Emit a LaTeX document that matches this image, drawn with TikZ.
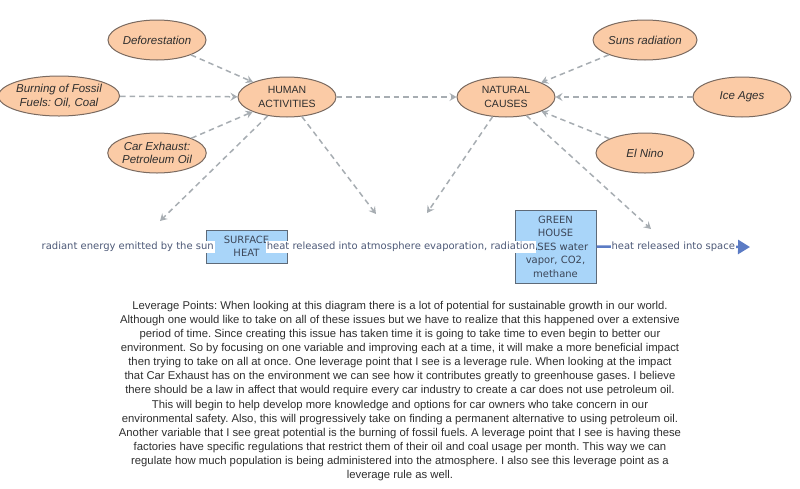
\documentclass[tikz,border=0pt]{standalone}
\usepackage{fontspec}
\setmainfont{Liberation Sans}
\newfontfamily\dvfont{DejaVu Sans}
\usetikzlibrary{shapes.geometric,arrows.meta}
\definecolor{peach}{HTML}{FBCBA6}
\definecolor{ellborder}{HTML}{7A6A60}
\definecolor{boxfill}{HTML}{A9D5F9}
\definecolor{boxborder}{HTML}{5E6A78}
\definecolor{dashgray}{HTML}{A7ADB2}
\definecolor{linktext}{HTML}{4E5A78}
\definecolor{flowblue}{HTML}{5B7BC4}
\definecolor{bodytext}{HTML}{2E2E2E}
\definecolor{boxtext}{HTML}{3C4658}
\tikzset{
  cause/.style={ellipse, draw=ellborder, line width=1pt, fill=peach, minimum width=98pt, minimum height=40pt, inner sep=0pt, align=center, text=bodytext, font=\fontsize{11.5}{13.5}\selectfont\itshape},
  hub/.style={cause, font=\fontsize{10.5}{13.5}\selectfont},
  stockbox/.style={rectangle, draw=boxborder, line width=1pt, fill=boxfill, inner sep=0pt, align=center, text=boxtext, font=\dvfont\fontsize{10}{13.5}\selectfont},
  dasharrow/.style={draw=dashgray, line width=1.5pt, dash pattern=on 5.5pt off 4pt, -{Stealth[length=7pt,width=8pt,inset=2.5pt,fill=dashgray]}},
  linklabel/.style={fill=white, inner sep=1pt, text=linktext, font=\dvfont\fontsize{10}{12}\selectfont},
}
\begin{document}
\frenchspacing
\begin{tikzpicture}[x=1pt,y=-1pt]
\useasboundingbox (0,0) rectangle (800,488);
% ellipses
\node[cause] (defo) at (157,40) {Deforestation};
\node[cause] (fossil) at (59,96) {Burning of Fossil\\Fuels: Oil, Coal};
\node[cause] (car) at (157,153) {Car Exhaust:\\Petroleum Oil};
\node[hub] (human) at (287,97) {HUMAN\\ACTIVITIES};
\node[hub] (natural) at (506,97) {NATURAL\\CAUSES};
\node[cause] (suns) at (645,40) {Suns radiation};
\node[cause] (ice) at (742,97) {Ice Ages};
\node[cause] (nino) at (645,153) {El Nino};
% free ends
\coordinate (h1) at (160,221);
\coordinate (h2) at (376,214);
\coordinate (n1) at (427,213);
\coordinate (n2) at (651,229);
% dashed arrows
\draw[dasharrow] (defo) -- (human);
\draw[dasharrow] (fossil) -- (human);
\draw[dasharrow] (car) -- (human);
\draw[dasharrow] (human) -- (natural);
\draw[dasharrow] (suns) -- (natural);
\draw[dasharrow] (ice) -- (natural);
\draw[dasharrow] (nino) -- (natural);
\draw[dasharrow] (human) -- (h1);
\draw[dasharrow] (human) -- (h2);
\draw[dasharrow] (natural) -- (n1);
\draw[dasharrow] (natural) -- (n2);
% boxes
\node[stockbox, minimum width=81pt, minimum height=33pt] (surface) at (246.5,246.5) {SURFACE\\HEAT};
\node[stockbox, minimum width=81pt, minimum height=73pt] (green) at (555.5,246.5) {GREEN\\HOUSE\\GASES water\\vapor, CO2,\\methane};
% flows
\coordinate (spaceend) at (750,247);
\draw[flowblue, line width=2.5pt, -{Triangle[length=12pt,width=14pt]}] (green.east) -- (spaceend) node[midway, linklabel] (l3) {heat released into space};
\node[linklabel, anchor=east] (l1) at (215,247) {radiant energy emitted by the sun};
\node[linklabel] (l2) at (401,247) {heat released into atmosphere evaporation, radiation};
% paragraph
\node[align=center, text=bodytext, font=\fontsize{11.3}{14.1}\selectfont, inner sep=0pt] (para) at (400,391) {Leverage Points: When looking at this diagram there is a lot of potential for sustainable growth in our world.\\
Although one would like to take on all of these issues but we have to realize that this happened over a extensive\\
period of time. Since creating this issue has taken time it is going to take time to even begin to better our\\
environment. So by focusing on one variable and improving each at a time, it will make a more beneficial impact\\
then trying to take on all at once. One leverage point that I see is a leverage rule. When looking at the impact\\
that Car Exhaust has on the environment we can see how it contributes greatly to greenhouse gases. I believe\\
there should be a law in affect that would require every car industry to create a car does not use petroleum oil.\\
This will begin to help develop more knowledge and options for car owners who take concern in our\\
environmental safety. Also, this will progressively take on finding a permanent alternative to using petroleum oil.\\
Another variable that I see great potential is the burning of fossil fuels. A leverage point that I see is having these\\
factories have specific regulations that restrict them of their oil and coal usage per month. This way we can\\
regulate how much population is being administered into the atmosphere. I also see this leverage point as a\\
leverage rule as well.};
\end{tikzpicture}
\end{document}
